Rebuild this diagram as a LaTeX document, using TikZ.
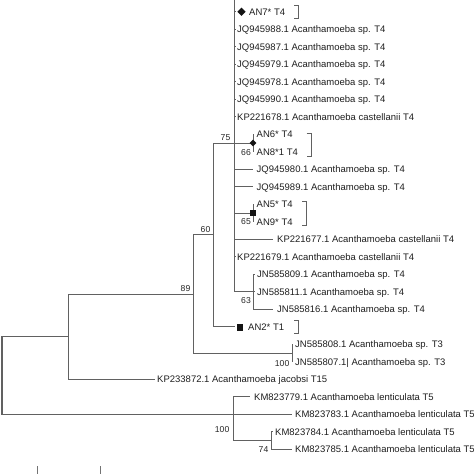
\documentclass[tikz,border=0pt]{standalone}
\usepackage{fontspec}
\setmainfont{Liberation Sans}
\usetikzlibrary{shapes.geometric}
\begin{document}
\begin{tikzpicture}[x={(1pt,0)}, y={(0,-1pt)},
  br/.style={draw=black!62, line width=0.9pt},
  brk/.style={draw=black!62, line width=0.9pt},
  leaf/.style={anchor=base west, inner sep=0pt, font=\fontsize{9.5}{10}\selectfont, text=black!88},
  bs/.style={anchor=base east, inner sep=0pt, font=\fontsize{8.6}{9}\selectfont, text=black!85},
  dmark/.style={diamond, fill=black!92, inner sep=0pt, minimum width=8.5pt, minimum height=8.5pt},
  smark/.style={rectangle, fill=black!92, inner sep=0pt, minimum width=6.8pt, minimum height=6.8pt}]
\useasboundingbox (0,0) rectangle (474,474);
\fill[white] (0,0) rectangle (474,474);
\clip (0,0) rectangle (474,474);

% internal nodes
\coordinate (Ftop) at (234,0);
\coordinate (F) at (234,143.05);
\coordinate (Fbot) at (234,291.8);
\coordinate (N1) at (253,143.05);
\coordinate (N2) at (253,213.05);
\coordinate (H) at (253,291.8);
\coordinate (D) at (213,234.9);
\coordinate (C) at (193,294.0);
\coordinate (E) at (292,353.05);
\coordinate (A) at (68,336.6);
\coordinate (B) at (233,414.3);
\coordinate (G) at (271,440.55);
\coordinate (R) at (2,375.5);

% branch tips
\coordinate (tAN7) at (236,11.8);
\coordinate (t988) at (235.5,29.3);
\coordinate (t987) at (235.5,46.8);
\coordinate (t979) at (235.5,64.3);
\coordinate (t978) at (235.5,81.8);
\coordinate (t990) at (235.5,99.3);
\coordinate (t678) at (235.5,116.8);
\coordinate (tAN6) at (254,134.3);
\coordinate (tAN8) at (254,151.8);
\coordinate (t980) at (253,169.3);
\coordinate (t989) at (253,186.8);
\coordinate (tAN5) at (254,204.3);
\coordinate (tAN9) at (254,221.8);
\coordinate (t677) at (273,239.3);
\coordinate (t679) at (235.5,256.8);
\coordinate (t809) at (255,274.3);
\coordinate (t811) at (255,291.8);
\coordinate (t816) at (273,309.3);
\coordinate (tAN2) at (235,326.8);
\coordinate (t808) at (293,344.3);
\coordinate (t807) at (293,361.8);
\coordinate (tKP) at (155,379.3);
\coordinate (t779) at (250,396.8);
\coordinate (t783) at (292,414.3);
\coordinate (t784) at (272.5,431.8);
\coordinate (t785) at (292,449.3);

% branches
\draw[br] (Ftop) -- (Fbot);
\foreach \t in {tAN7,t988,t987,t979,t978,t990,t678,t980,t989,t677,t679}
  \draw[br] (F) |- (\t);
\draw[br] (F) -- (N1);
\draw[br] (F) |- (N2);
\draw[br] (F) |- (H);
\draw[br] (N1) |- (tAN6);
\draw[br] (N1) |- (tAN8);
\draw[br] (N2) |- (tAN5);
\draw[br] (N2) |- (tAN9);
\draw[br] (H) |- (t809);
\draw[br] (H) -- (t811);
\draw[br] (H) |- (t816);
\draw[br] (D) |- (F);
\draw[br] (D) |- (tAN2);
\draw[br] (C) |- (D);
\draw[br] (C) |- (E);
\draw[br] (E) |- (t808);
\draw[br] (E) |- (t807);
\draw[br] (A) |- (C);
\draw[br] (A) |- (tKP);
\draw[br, line width=1.6pt] (R) |- (A);
\draw[br, line width=1.6pt] (R) |- (B);
\draw[br] (B) |- (t779);
\draw[br] (B) -- (t783);
\draw[br] (B) |- (G);
\draw[br] (G) |- (t784);
\draw[br] (G) |- (t785);

% markers
\node[dmark] (mAN7) at (241.5,11.8) {};
\node[dmark, minimum width=7pt, minimum height=7pt] (mN1) at (N1) {};
\node[smark] (mN2) at (N2) {};
\node[smark] (mAN2) at (240,327.3) {};

% leaf labels
\node[leaf] (lAN7) at (249,15.2) {AN7* T4};
\node[leaf] (l988) at (237,32.7) {JQ945988.1 Acanthamoeba sp. T4};
\node[leaf] (l987) at (237,50.2) {JQ945987.1 Acanthamoeba sp. T4};
\node[leaf] (l979) at (237,67.7) {JQ945979.1 Acanthamoeba sp. T4};
\node[leaf] (l978) at (237,85.2) {JQ945978.1 Acanthamoeba sp. T4};
\node[leaf] (l990) at (237,102.7) {JQ945990.1 Acanthamoeba sp. T4};
\node[leaf] (l678) at (237,120.2) {KP221678.1 Acanthamoeba castellanii T4};
\node[leaf] (lAN6) at (256.5,137.7) {AN6* T4};
\node[leaf] (lAN8) at (256.5,155.2) {AN8*1 T4};
\node[leaf] (l980) at (256.5,172.7) {JQ945980.1 Acanthamoeba sp. T4};
\node[leaf] (l989) at (256.5,190.2) {JQ945989.1 Acanthamoeba sp. T4};
\node[leaf] (lAN5) at (256.5,207.7) {AN5* T4};
\node[leaf] (lAN9) at (256.5,225.2) {AN9* T4};
\node[leaf] (l677) at (277,242.7) {KP221677.1 Acanthamoeba castellanii T4};
\node[leaf] (l679) at (237,260.2) {KP221679.1 Acanthamoeba castellanii T4};
\node[leaf] (l809) at (257,277.7) {JN585809.1 Acanthamoeba sp. T4};
\node[leaf] (l811) at (257,295.2) {JN585811.1 Acanthamoeba sp. T4};
\node[leaf] (l816) at (277,312.7) {JN585816.1 Acanthamoeba sp. T4};
\node[leaf] (lAN2) at (248,330.2) {AN2* T1};
\node[leaf] (l808) at (295,347.7) {JN585808.1 Acanthamoeba sp. T3};
\node[leaf] (l807) at (295,365.2) {JN585807.1| Acanthamoeba sp. T3};
\node[leaf] (lKP) at (157,382.7) {KP233872.1 Acanthamoeba jacobsi T15};
\node[leaf] (l779) at (254,400.2) {KM823779.1 Acanthamoeba lenticulata T5};
\node[leaf] (l783) at (295,417.7) {KM823783.1 Acanthamoeba lenticulata T5};
\node[leaf] (l784) at (275,435.2) {KM823784.1 Acanthamoeba lenticulata T5};
\node[leaf] (l785) at (295,452.7) {KM823785.1 Acanthamoeba lenticulata T5};

% brackets
\draw[brk] (294,5.5) -- (298.5,5.5) -- (298.5,18.5) -- (294,18.5);
\draw[brk] (306.5,133) -- (311,133) -- (311,156) -- (306.5,156);
\draw[brk] (302,201.5) -- (306.5,201.5) -- (306.5,225) -- (302,225);
\draw[brk] (294,320.5) -- (298.5,320.5) -- (298.5,333.5) -- (294,333.5);

% bootstrap values
\node[bs] (b75) at (230.5,140.6) {75};
\node[bs] (b66) at (251,155.1) {66};
\node[bs] (b65) at (251,224.6) {65};
\node[bs] (b60) at (210.5,232.4) {60};
\node[bs] (b63) at (251,303.6) {63};
\node[bs] (b89) at (190.5,291.5) {89};
\node[bs] (b100a) at (289.5,366.1) {100};
\node[bs] (b100b) at (229.5,432.6) {100};
\node[bs] (b74) at (268.5,452.1) {74};

% scale bar remnants
\draw[black!55, line width=0.8pt] (37,466) -- (37,474);
\draw[black!55, line width=0.8pt] (100,466) -- (100,474);
\end{tikzpicture}
\end{document}
